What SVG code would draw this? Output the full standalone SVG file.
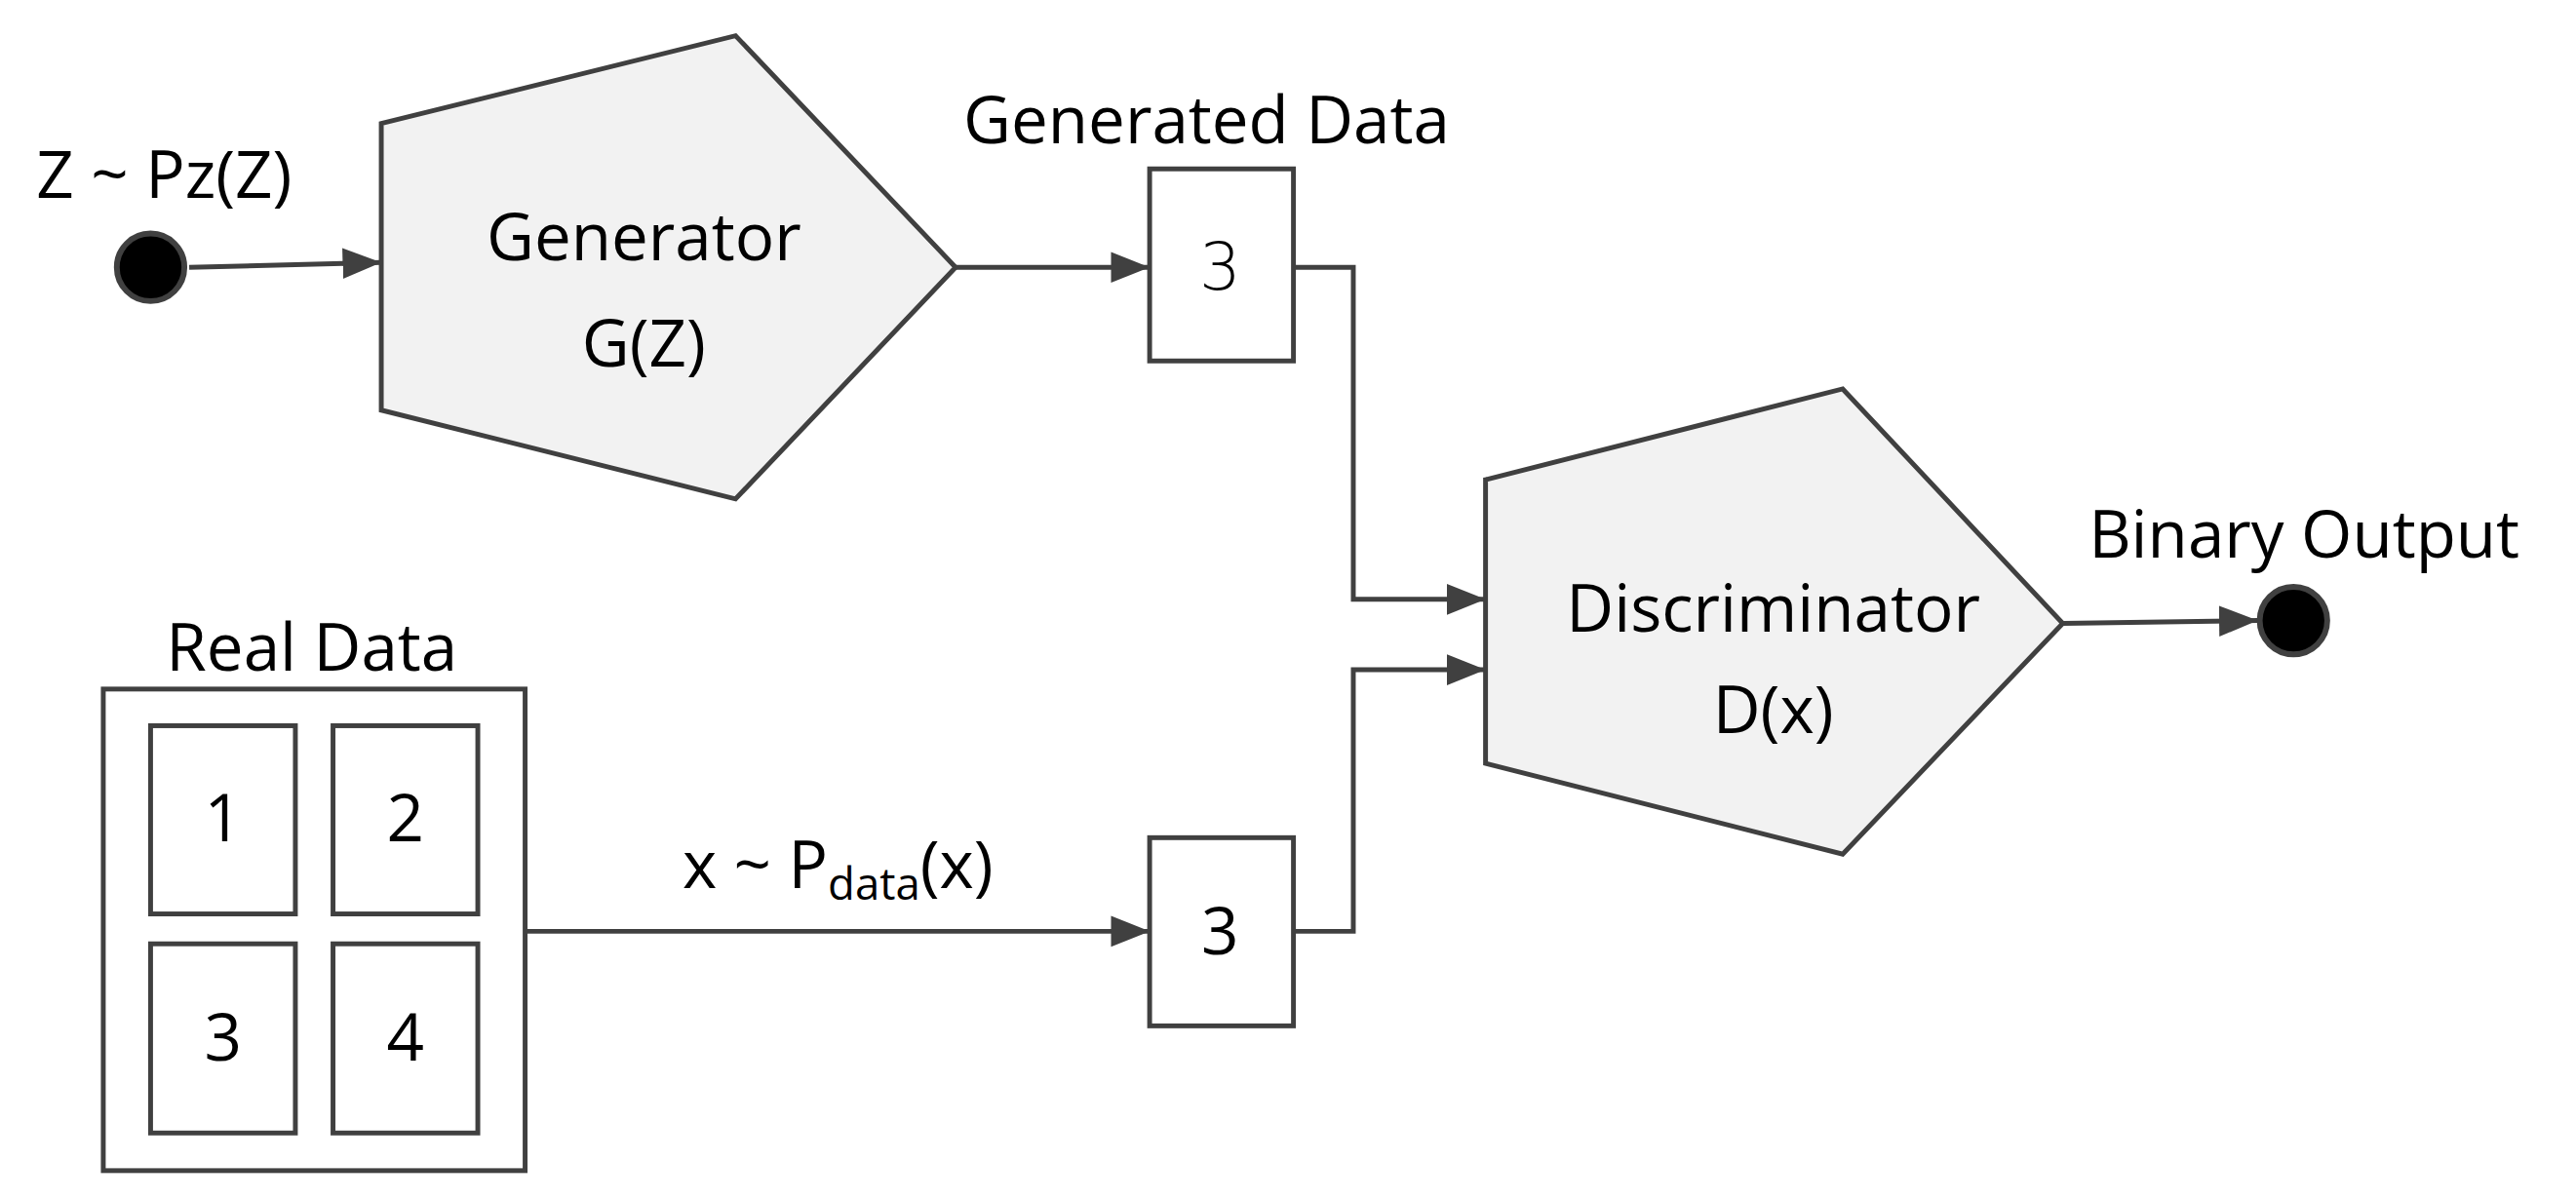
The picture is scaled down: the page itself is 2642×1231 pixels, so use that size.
<svg xmlns="http://www.w3.org/2000/svg" width="2642" height="1231" viewBox="0 0 2642 1231">
<style>
.s{fill:none;stroke:#404040;stroke-width:5}
.p{fill:#f2f2f2;stroke:#404040;stroke-width:5}
.b{fill:#fff;stroke:#404040;stroke-width:5}
.c{fill:#000;stroke:#404040;stroke-width:6}
text{font-family:"Open Sans","Liberation Sans",Arial,sans-serif;font-size:68px;fill:#000;text-anchor:middle}
</style>
<defs>
<marker id="m" viewBox="0 0 10 10" refX="10" refY="5" markerWidth="8" markerHeight="8" orient="auto"><path d="M0,1L10,5L0,9z" fill="#404040"/></marker></defs>
<rect width="2642" height="1231" fill="#fff"/>
<g transform="scale(0.99)">
<g id="edges">
<path class="s" d="M196,277L395,272" marker-end="url(#m)"/>
<path class="s" d="M990,277L1191,277" marker-end="url(#m)"/>
<path class="s" d="M1340,277H1402V621H1539" marker-end="url(#m)"/>
<path class="s" d="M1340,965H1402V694H1539" marker-end="url(#m)"/>
<path class="s" d="M544,965H1191" marker-end="url(#m)"/>
<path class="s" d="M2137,646L2339,643" marker-end="url(#m)"/>
<text x="868" y="920">x ~ P<tspan font-size="46" dy="12">data</tspan><tspan dy="-12">(x)</tspan></text>
</g>
<g id="input"><circle class="c" cx="156" cy="277" r="35"/><text x="170" y="205">Z ~ Pz(Z)</text></g>
<g id="generator"><polygon class="p" points="395,128 762,37 990,277 762,517 395,425"/><text x="667" y="270">Generator</text><text x="667" y="380">G(Z)</text></g>
<g id="generated"><rect class="b" x="1191" y="175" width="149" height="199"/><text x="1264" y="300" font-size="40" style="font-family:'DejaVu Sans',sans-serif;font-weight:100">3</text><text x="1250" y="148">Generated Data</text></g>
<g id="discriminator"><polygon class="p" points="1539,497 1909,403 2137,646 1909,885 1539,791"/><text x="1837" y="655">Discriminator</text><text x="1837" y="760">D(x)</text></g>
<g id="output"><circle class="c" cx="2376" cy="643" r="35"/><text x="2387" y="578">Binary Output</text></g>
<g id="sample"><rect class="b" x="1191" y="868" width="149" height="195"/><text x="1264" y="989">3</text></g>
<g id="real"><rect class="b" x="107" y="714" width="437" height="499"/><text x="323" y="695">Real Data</text>
<rect class="b" x="156" y="752" width="150" height="195"/><text x="231" y="872">1</text>
<rect class="b" x="345" y="752" width="150" height="195"/><text x="420" y="872">2</text>
<rect class="b" x="156" y="978" width="150" height="196"/><text x="231" y="1099">3</text>
<rect class="b" x="345" y="978" width="150" height="196"/><text x="420" y="1099">4</text></g>
</g>
</svg>
